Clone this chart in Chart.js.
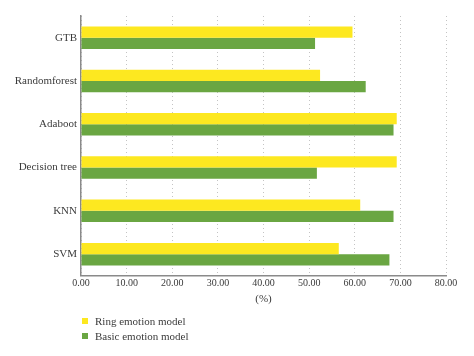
<!DOCTYPE html>
<html>
<head>
<meta charset="utf-8">
<script src="https://cdn.jsdelivr.net/npm/chart.js@4/dist/chart.umd.min.js"></script>
<style>
  html, body { margin: 0; padding: 0; background: #fff; }
  #wrap { position: relative; width: 474px; height: 356px; }
  #legend { position: absolute; left: 82px; top: 313px; font-family: "Liberation Serif", serif; font-size: 11px; color: #3a3a3a; }
  #legend .item { display: flex; align-items: center; height: 15px; }
  #legend .box { width: 6px; height: 6px; margin-right: 7px; }
</style>
</head>
<body>
<div id="wrap">
  <canvas id="c" width="474" height="356"></canvas>
  <div id="legend"></div>
</div>
<script>
const categories = ["GTB", "Randomforest", "Adaboot", "Decision tree", "KNN", "SVM"];
const seriesNames = ["Ring emotion model", "Basic emotion model"];
const ringValues = [59.5, 52.4, 69.2, 69.2, 61.2, 56.5];
const basicValues = [51.3, 62.4, 68.5, 51.7, 68.5, 67.6];
const xTickValues = [0, 10, 20, 30, 40, 50, 60, 70, 80];
const colors = ["#FDE820", "#6AA642"];

const textColor = "#3a3a3a";
const serif = "'Liberation Serif', 'Times New Roman', serif";

const chart = new Chart(document.getElementById("c"), {
  type: "bar",
  data: {
    labels: categories,
    datasets: [
      { label: seriesNames[0], data: ringValues, backgroundColor: colors[0], borderWidth: 0 },
      { label: seriesNames[1], data: basicValues, backgroundColor: colors[1], borderWidth: 0 }
    ]
  },
  options: {
    indexAxis: "y",
    responsive: false,
    animation: false,
    devicePixelRatio: 1,
    layout: { padding: { left: 0, right: 28, top: 16, bottom: 46 } },
    datasets: { bar: { categoryPercentage: 0.52, barPercentage: 1.0 } },
    plugins: { legend: { display: false }, tooltip: { enabled: false } },
    scales: {
      x: {
        min: 0, max: 80,
        afterBuildTicks: (scale) => { scale.ticks = xTickValues.map(v => ({ value: v })); },
        ticks: {
          padding: 2,
          color: textColor,
          font: { family: serif, size: 10 },
          callback: (v) => Number(v).toFixed(2)
        },
        grid: { display: true, drawTicks: false, color: "#c4c4c4", lineWidth: 1 },
        border: { display: true, color: "#8a8a8a", width: 1.5, dash: [1, 3] },
        title: { display: true, text: "(%)", color: textColor, font: { family: serif, size: 11 }, padding: { top: 1, bottom: 4 } }
      },
      y: {
        afterFit: (scale) => { scale.width = 81; },
        ticks: { padding: 4, color: textColor, font: { family: serif, size: 11 } },
        grid: { display: false, drawTicks: false },
        border: { display: true, color: "#8a8a8a", width: 1.5 }
      }
    }
  },
  plugins: [{
    id: "dottedGrid",
    beforeDatasetsDraw(chart) {}
  }]
});

// HTML legend from dataset info
const legend = document.getElementById("legend");
chart.data.datasets.forEach(ds => {
  const item = document.createElement("div");
  item.className = "item";
  const box = document.createElement("span");
  box.className = "box";
  box.style.background = ds.backgroundColor;
  const t = document.createElement("span");
  t.textContent = ds.label;
  item.appendChild(box); item.appendChild(t);
  legend.appendChild(item);
});
</script>
</body>
</html>
